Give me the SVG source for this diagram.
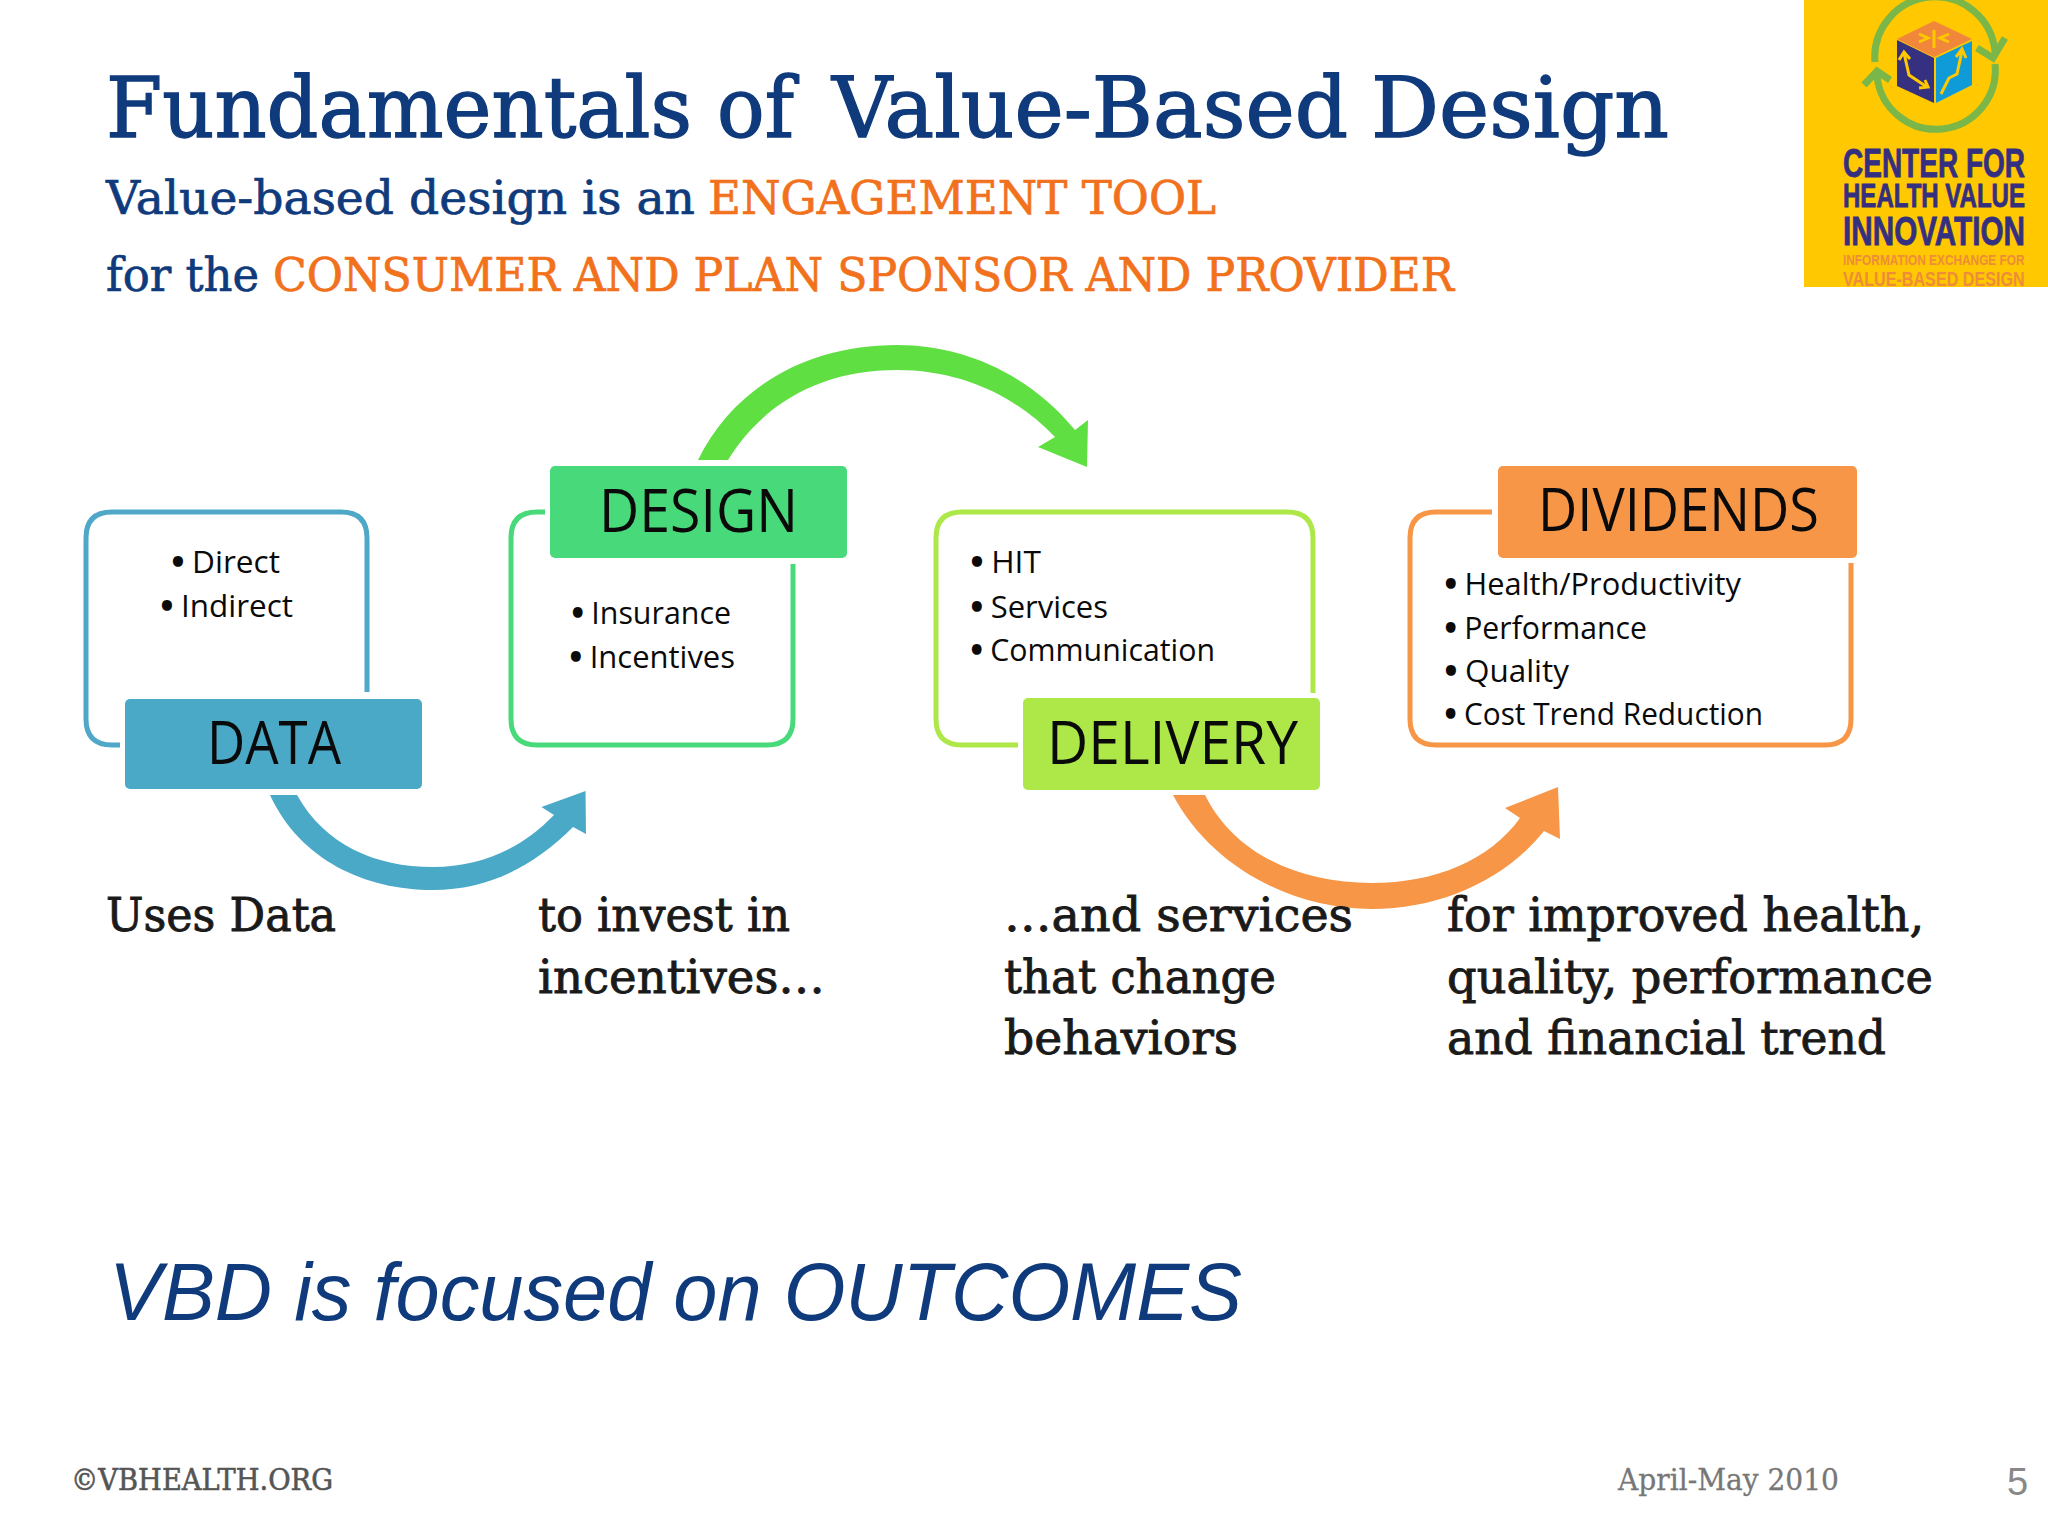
<svg xmlns="http://www.w3.org/2000/svg" width="2048" height="1536" viewBox="0 0 2048 1536">
<style>
.slab{font-family:"DejaVu Serif","Liberation Serif",serif}
.cal{font-family:"Open Sans","Liberation Sans",sans-serif;fill:#0a0a0a}
.head{font-size:60px}
.item{font-size:31px}
.b{stroke:#0a0a0a;stroke-width:3.5px}
.cap{font-size:47px;fill:#1a1a1a;stroke:#1a1a1a;stroke-width:.9px}
.navy{fill:#0f3a7c}
.orange{fill:#f2711c}
.sub{stroke-width:.7px}
.sn{stroke:#0f3a7c}
.so{stroke:#f2711c}
.outline{fill:none;stroke-width:5;stroke-linecap:butt}
.logo{font-family:"Liberation Sans",Arial,sans-serif;font-weight:bold}
.lnavy{fill:#352f80;stroke:#352f80;stroke-width:.8px}
.lorange{fill:#ee8c3a}
.ring{fill:none;stroke:#7ab648;stroke-width:7}
.ya{fill:none;stroke:#ffc800;stroke-width:3;stroke-linejoin:miter}
</style>
<rect width="2048" height="1536" fill="#ffffff"/>
<g id="title">
<text class="slab navy sn" stroke-width="1.4" y="137" font-size="84"><tspan x="106" textLength="586" lengthAdjust="spacingAndGlyphs">Fundamentals</tspan> <tspan x="717" textLength="77" lengthAdjust="spacingAndGlyphs">of</tspan> <tspan x="832" textLength="516" lengthAdjust="spacingAndGlyphs">Value-Based</tspan> <tspan x="1371" textLength="298" lengthAdjust="spacingAndGlyphs">Design</tspan></text>
<text class="slab navy sn sub" x="106" y="214" font-size="47" textLength="589" lengthAdjust="spacingAndGlyphs">Value-based design is an</text>
<text class="slab orange so sub" x="708" y="214" font-size="47" textLength="508" lengthAdjust="spacingAndGlyphs">ENGAGEMENT TOOL</text>
<text class="slab navy sn sub" x="106" y="291" font-size="47" textLength="153" lengthAdjust="spacingAndGlyphs">for the</text>
<text class="slab orange so sub" x="273" y="291" font-size="47" textLength="1181" lengthAdjust="spacingAndGlyphs">CONSUMER AND PLAN SPONSOR AND PROVIDER</text>
</g>
<g id="logo">
<rect x="1804" y="0" width="244" height="287" fill="#ffc800"/>
<path class="ring" d="M1875 62 A59 59 0 0 1 1995 52"/>
<path class="ring" d="M1995 64 A59 59 0 0 1 1877 76"/>
<path d="M1977 48 L1993 58 L2005 38" fill="none" stroke="#7ab648" stroke-width="7"/>
<path d="M1864 85 L1877 71 L1890 80" fill="none" stroke="#7ab648" stroke-width="7"/>
<path d="M1934 21 L1972 39 L1934 57 L1897 39Z" fill="#f0873a"/>
<path d="M1897 40 L1934 58 L1934 103 L1897 86Z" fill="#35307f"/>
<path d="M1936 58 L1972 41 L1972 85 L1936 103Z" fill="#0f9bd7"/>
<path d="M1934 30 V48 M1919 34 L1928 38 L1919 42 M1949 34 L1940 38 L1949 42" class="ya"/>
<path d="M1904 53 L1909 75 L1927 87 M1899 60 L1904 52 L1910 59 M1919 88 L1928 87 L1925 80" class="ya"/>
<path d="M1941 94 L1949 78 L1957 74 L1962 51 M1956 57 L1962 49 L1966 58" class="ya"/>
<text class="logo lnavy" transform="translate(1843 177) scale(.7 1)" font-size="40" textLength="260" lengthAdjust="spacingAndGlyphs">CENTER FOR</text>
<text class="logo lnavy" transform="translate(1843 207) scale(.7 1)" font-size="33" textLength="260" lengthAdjust="spacingAndGlyphs">HEALTH VALUE</text>
<text class="logo lnavy" transform="translate(1843 245) scale(.7 1)" font-size="40" textLength="260" lengthAdjust="spacingAndGlyphs">INNOVATION</text>
<text class="logo lorange" transform="translate(1843 265) scale(.8 1)" font-size="14" textLength="227" lengthAdjust="spacingAndGlyphs">INFORMATION EXCHANGE FOR</text>
<text class="logo lorange" transform="translate(1843 286) scale(.8 1)" font-size="20" textLength="227" lengthAdjust="spacingAndGlyphs">VALUE-BASED DESIGN</text>
</g>
<g id="connectors">
<path id="arrow-data-design" fill="#4ba9c8" d="M270 795 C300 860 365 890 433 890 C490 890 535 865 573 827 L586 834 L585.500 791 L541.500 807 L554 815 C520 850 480 867 433 867 C375 867 325 845 297 795Z"/>
<path id="arrow-design-delivery" fill="#60df42" d="M698 460 L728 460 C765 400 825 370 897 370 C960 370 1015 395 1055 437 L1038 447 L1087 467 L1088 420 L1075 430 C1030 375 965 345 897 345 C810 345 735 385 698 460Z"/>
<path id="arrow-delivery-dividends" fill="#f79646" d="M1173 795 C1210 865 1290 909 1372 909 C1440 909 1505 880 1544 831 L1560 839 L1558 787 L1505 808 L1520 818 C1490 860 1435 883 1372 883 C1300 883 1235 855 1205 795Z"/>
</g>
<g id="node-data">
<path class="outline" stroke="#4fa8c7" d="M367 692 V538 Q367 512 341 512 H112 Q86 512 86 538 V719 Q86 745 112 745 H120"/>
<rect x="125" y="699" width="297" height="90" rx="5" fill="#4ba9c8"/>
<text class="cal head" x="207" y="764" textLength="134" lengthAdjust="spacingAndGlyphs">DATA</text>
<text class="cal item" x="172" y="573" textLength="108" lengthAdjust="spacingAndGlyphs"><tspan class="b">•</tspan> Direct</text>
<text class="cal item" x="161" y="617" textLength="132" lengthAdjust="spacingAndGlyphs"><tspan class="b">•</tspan> Indirect</text>
</g>
<g id="node-design">
<path class="outline" stroke="#48d97a" d="M545 512 H537 Q511 512 511 538 V719 Q511 745 537 745 H767 Q793 745 793 719 V564"/>
<rect x="550" y="466" width="297" height="92" rx="5" fill="#48d97a"/>
<text class="cal head" x="599" y="532" textLength="199" lengthAdjust="spacingAndGlyphs">DESIGN</text>
<text class="cal item" x="572" y="624" textLength="159" lengthAdjust="spacingAndGlyphs"><tspan class="b">•</tspan> Insurance</text>
<text class="cal item" x="570" y="668" textLength="165" lengthAdjust="spacingAndGlyphs"><tspan class="b">•</tspan> Incentives</text>
</g>
<g id="node-delivery">
<path class="outline" stroke="#ade848" d="M1313 693 V538 Q1313 512 1287 512 H962 Q936 512 936 538 V719 Q936 745 962 745 H1018"/>
<rect x="1023" y="698" width="297" height="92" rx="5" fill="#ade848"/>
<text class="cal head" x="1047" y="764" textLength="251" lengthAdjust="spacingAndGlyphs">DELIVERY</text>
<text class="cal item" x="971" y="573" textLength="70" lengthAdjust="spacingAndGlyphs"><tspan class="b">•</tspan> HIT</text>
<text class="cal item" x="971" y="618" textLength="137" lengthAdjust="spacingAndGlyphs"><tspan class="b">•</tspan> Services</text>
<text class="cal item" x="971" y="661" textLength="244" lengthAdjust="spacingAndGlyphs"><tspan class="b">•</tspan> Communication</text>
</g>
<g id="node-dividends">
<path class="outline" stroke="#f79646" d="M1492 512 H1436 Q1410 512 1410 538 V719 Q1410 745 1436 745 H1825 Q1851 745 1851 719 V563"/>
<rect x="1498" y="466" width="359" height="92" rx="5" fill="#f79646"/>
<text class="cal head" x="1538" y="531" textLength="281" lengthAdjust="spacingAndGlyphs">DIVIDENDS</text>
<text class="cal item" x="1445" y="595" textLength="296" lengthAdjust="spacingAndGlyphs"><tspan class="b">•</tspan> Health/Productivity</text>
<text class="cal item" x="1445" y="639" textLength="202" lengthAdjust="spacingAndGlyphs"><tspan class="b">•</tspan> Performance</text>
<text class="cal item" x="1445" y="682" textLength="124" lengthAdjust="spacingAndGlyphs"><tspan class="b">•</tspan> Quality</text>
<text class="cal item" x="1445" y="725" textLength="318" lengthAdjust="spacingAndGlyphs"><tspan class="b">•</tspan> Cost Trend Reduction</text>
</g>
<g id="captions">
<text class="slab cap" x="106" y="931" textLength="230" lengthAdjust="spacingAndGlyphs">Uses Data</text>
<text class="slab cap" x="538" y="931" textLength="252" lengthAdjust="spacingAndGlyphs">to invest in</text>
<text class="slab cap" x="538" y="993" textLength="287" lengthAdjust="spacingAndGlyphs">incentives…</text>
<text class="slab cap" x="1004" y="931" textLength="349" lengthAdjust="spacingAndGlyphs">…and services</text>
<text class="slab cap" x="1004" y="993" textLength="272" lengthAdjust="spacingAndGlyphs">that change</text>
<text class="slab cap" x="1004" y="1054" textLength="234" lengthAdjust="spacingAndGlyphs">behaviors</text>
<text class="slab cap" x="1447" y="931" textLength="477" lengthAdjust="spacingAndGlyphs">for improved health,</text>
<text class="slab cap" x="1447" y="993" textLength="486" lengthAdjust="spacingAndGlyphs">quality, performance</text>
<text class="slab cap" x="1447" y="1054" textLength="439" lengthAdjust="spacingAndGlyphs">and financial trend</text>
</g>
<text x="109" y="1320" font-family="Liberation Sans,Arial,sans-serif" font-style="italic" font-size="81" class="navy" textLength="1133" lengthAdjust="spacingAndGlyphs">VBD is focused on OUTCOMES</text>
<g id="footer">
<text class="slab" x="71" y="1490" font-size="29" fill="#555555" stroke="#555555" stroke-width=".6" textLength="262" lengthAdjust="spacingAndGlyphs">©VBHEALTH.ORG</text>
<text class="slab" x="1618" y="1490" font-size="29" fill="#777777" stroke="#777777" stroke-width=".3" textLength="221" lengthAdjust="spacingAndGlyphs">April-May 2010</text>
<text x="2007" y="1495" font-family="Liberation Sans,Arial,sans-serif" font-size="38" fill="#888888">5</text>
</g>
</svg>
